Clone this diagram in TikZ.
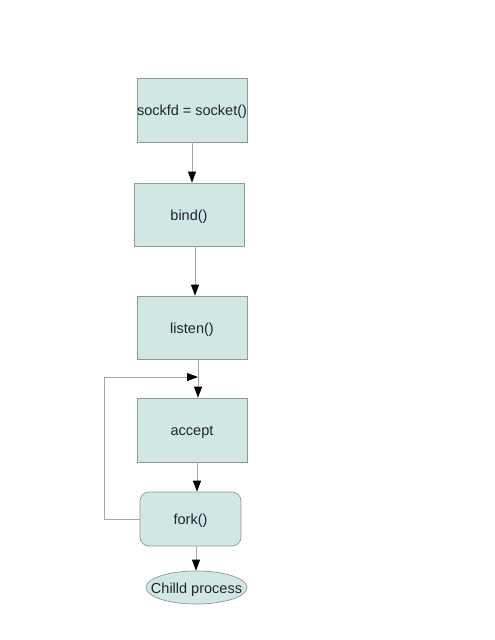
\documentclass[tikz,border=0pt]{standalone}
\usepackage{fontspec}
\setmainfont{Liberation Sans}
\usetikzlibrary{arrows.meta,shapes.geometric}
\definecolor{boxfill}{HTML}{D0E7E4}
\definecolor{boxline}{HTML}{8E9A98}
\definecolor{conn}{HTML}{A6A6A6}
\definecolor{txt}{HTML}{222233}
\tikzset{
  stepbox/.style={draw=boxline,fill=boxfill,line width=0.7pt,inner sep=0pt,text=txt,
    font=\fontsize{14.5}{16}\selectfont,text height=11.5pt,text depth=0pt},
  arr/.style={draw=conn,line width=0.9pt,-{Triangle[length=11pt,width=8pt,fill=black,color=black]}},
}
\begin{document}
\begin{tikzpicture}[x=1pt,y=-1pt]
\useasboundingbox[fill=white] (0,0) rectangle (495,640);
\node[stepbox,minimum width=110pt,minimum height=64pt] (socket) at (192,110) {sockfd = socket()};
\node[stepbox,minimum width=110pt,minimum height=63pt] (bind) at (189,214.5) {bind()};
\node[stepbox,minimum width=110pt,minimum height=63pt] (listen) at (192,327.5) {listen()};
\node[stepbox,minimum width=110pt,minimum height=64pt] (accept) at (192,430) {accept};
\node[stepbox,rounded corners=9pt,minimum width=101pt,minimum height=54pt] (fork) at (190.5,519) {fork()};
\node[stepbox,ellipse,inner xsep=-10pt,minimum width=101pt,minimum height=33pt] (child) at (196.5,587.5) {Chilld process};
\coordinate (loopin) at (198,377);
\draw[arr] (socket.south) -- (bind.north -| socket.south);
\draw[arr] (bind.south -| 195,0) -- (listen.north -| 195,0);
\draw[arr] (listen.south -| 198,0) -- (accept.north -| 198,0);
\draw[arr] (accept.south -| 197,0) -- (fork.north -| 197,0);
\draw[arr] (fork.south -| 196,0) -- (child.north -| 196,0);
\draw[arr] (fork.west) -- (104,519) |- (loopin);
\end{tikzpicture}
\end{document}
